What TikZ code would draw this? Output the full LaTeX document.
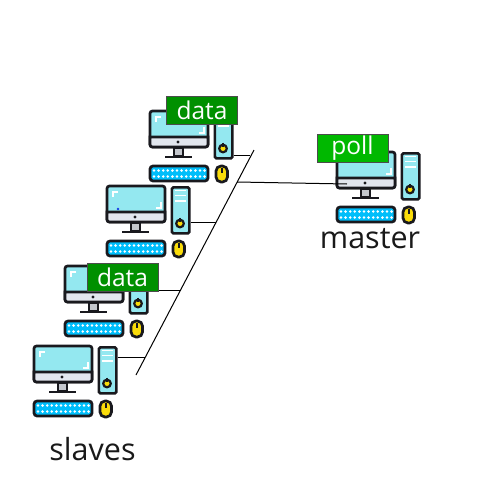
\documentclass[tikz,border=0pt]{standalone}
\usepackage{fontspec}
\setmainfont{Open Sans}
\usepackage{xcolor}
\usetikzlibrary{positioning}
\definecolor{outline}{RGB}{25,25,30}
\definecolor{screenblue}{RGB}{148,232,240}
\definecolor{panelgray}{RGB}{226,230,238}
\definecolor{keyblue}{RGB}{0,190,250}
\definecolor{mouseyellow}{RGB}{250,220,10}
\definecolor{datagreen}{RGB}{0,144,0}
\definecolor{pollgreen}{RGB}{0,184,0}
\definecolor{markblue}{RGB}{20,60,230}

\tikzset{
part/.style={draw=outline,line width=2.7pt,rounded corners=2.5pt},
towerbox/.style={draw=outline,line width=2.7pt,rounded corners=1.5pt,fill=screenblue,minimum width=17.5pt,minimum height=46pt,inner sep=0pt,anchor=north west},
msg/.style={draw=black!70,line width=0.6pt,minimum width=71pt,minimum height=28pt,inner sep=0pt,text=white,font=\fontsize{24.5}{24.5}\selectfont},
caption/.style={inner sep=0pt,text=black!90,font=\fontsize{30.5}{30.5}\selectfont},
bus/.style={draw=black,line width=1pt},
pics/computer/.style={code={
\draw[part,fill=screenblue] (1,1) rectangle (59,37);
\draw[part,fill=panelgray] (1,27) [sharp corners] -- (59,27) [rounded corners=2.5pt] -- (59,37) -- (1,37) [sharp corners] -- cycle;
\fill[outline] (29,32) circle (1.7);
\draw[white,line width=2pt] (12,6.5) -- (6.5,6.5) -- (6.5,12);
\draw[white,line width=2pt] (50,22.5) -- (55,22.5) -- (55,17);
\fill[panelgray!70!gray,draw=outline,line width=1.8pt] (25,38) rectangle (34,46);
\draw[outline,line width=2.4pt] (16,47) -- (43,47);
\node[towerbox] (tower) at (64.5,1) {};
\foreach \y in {5.5,10.5,16}
  \draw[white,line width=1.9pt] (69,\y) -- (79.5,\y);
\fill[mouseyellow,draw=outline,line width=2.2pt] (74,38.5) circle (3.8);
\draw[outline,line width=2.2pt] (74,32.5) -- (74,37);
\draw[part,fill=keyblue,rounded corners=3pt] (1,56) rectangle (59,71);
\foreach \x in {5,9.6,...,56}
  \foreach \y in {60.5,66.5}
    \fill[white] (\x,\y) circle (1.4);
\draw[part,fill=mouseyellow,rounded corners=5pt] (67,56) rectangle (78.5,72);
\draw[outline,line width=1.4pt] (72.8,58) -- (72.8,63);
}}
}

\begin{document}
\begin{tikzpicture}[x=1pt,y=-1pt]
\useasboundingbox (0,0) rectangle (481,493);

\pic (top) at (149,110) {computer};
\pic (second) at (106,185) {computer};
\pic (third) at (64,265) {computer};
\pic (bottom) at (33,345) {computer};
\pic (master) at (336,151) {computer};
\fill[markblue] (118,209) circle (1.3);

\coordinate (bustop) at (254,150);
\coordinate (busend) at (136,375);
\coordinate (tapmaster) at (237,182);
\coordinate (screenend) at (347,184);
\coordinate (taptop) at (250,155);
\coordinate (tapsecond) at (216,222);
\coordinate (tapthird) at (180,290);
\coordinate (tapbottom) at (145,357);
\coordinate (thirdend) at (146,290);

\draw[bus] (bustop)--(busend);
\draw[bus] (tapmaster)--(screenend);
\draw[bus] (toptower.east |- taptop)--(taptop);
\draw[bus] (secondtower.east |- tapsecond)--(tapsecond);
\draw[bus] (thirdend)--(tapthird);
\draw[bus] (bottomtower.east |- tapbottom)--(tapbottom);

\node[msg,fill=datagreen] (datatop) at (202,110) {data};
\node[msg,fill=datagreen] (datathird) at (122.5,277) {data};
\node[msg,fill=pollgreen] (pollmaster) at (352.5,148) {poll};

\node[caption] (mastername) at (370,239) {master};
\node[caption] (slavesname) at (92.5,449) {slaves};
\end{tikzpicture}
\end{document}
